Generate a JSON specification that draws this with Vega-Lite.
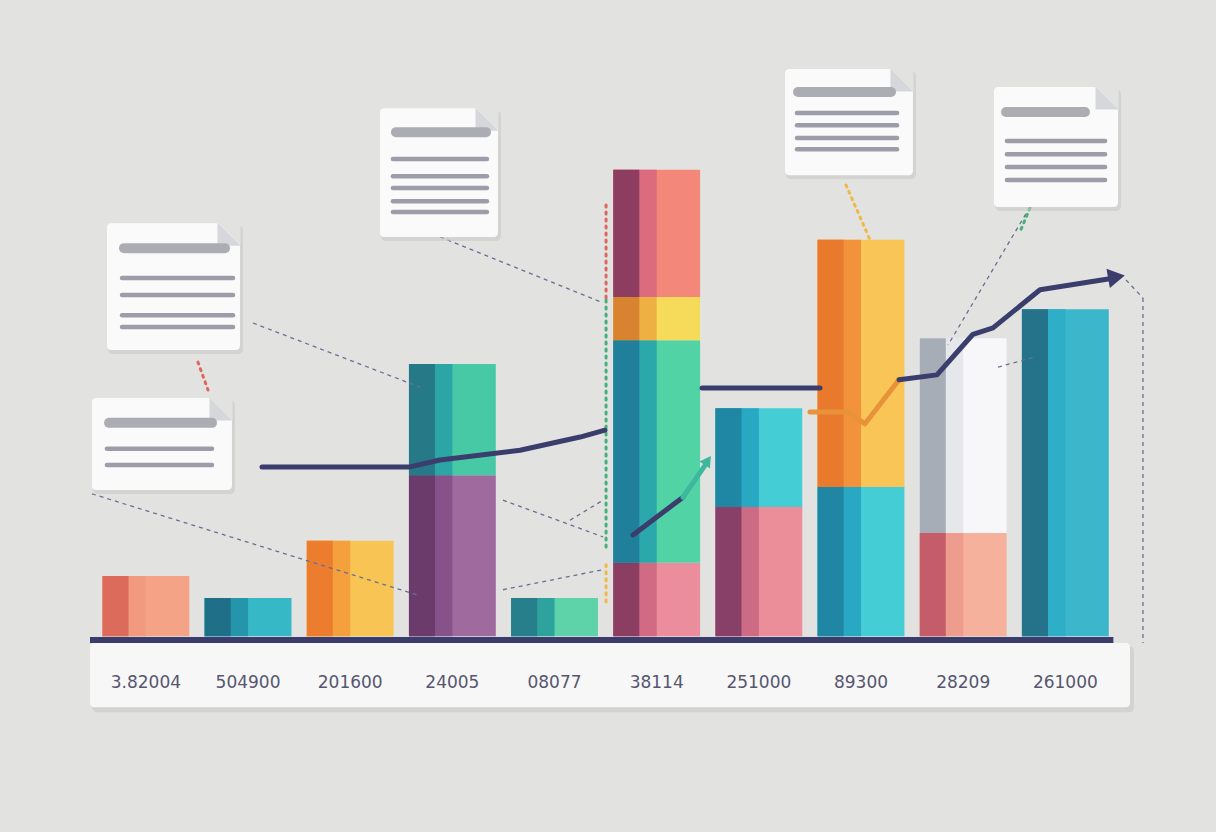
{
  "$schema": "https://vega.github.io/schema/vega-lite/v6.json",
  "width": 1040,
  "height": 832,
  "autosize": "none",
  "padding": {"left": 90, "right": 86, "top": 0, "bottom": 0},
  "background": "#e2e3e1",
  "config": {"view": {"stroke": null}},
  "datasets": {
    "bars": [
      {"label": "3.82004", "segment": "coral", "layer": 1, "value": 12.3},
      {"label": "504900", "segment": "teal", "layer": 1, "value": 7.8},
      {"label": "201600", "segment": "orange", "layer": 1, "value": 19.5},
      {"label": "24005", "segment": "plum", "layer": 1, "value": 32.9},
      {"label": "24005", "segment": "jade", "layer": 2, "value": 22.7},
      {"label": "08077", "segment": "mint", "layer": 1, "value": 7.8},
      {"label": "38114", "segment": "rose", "layer": 1, "value": 15.0},
      {"label": "38114", "segment": "green", "layer": 2, "value": 45.5},
      {"label": "38114", "segment": "gold", "layer": 3, "value": 8.8},
      {"label": "38114", "segment": "red", "layer": 4, "value": 26.0},
      {"label": "251000", "segment": "pink", "layer": 1, "value": 26.4},
      {"label": "251000", "segment": "cyan", "layer": 2, "value": 20.2},
      {"label": "89300", "segment": "cyan", "layer": 1, "value": 30.5},
      {"label": "89300", "segment": "amber", "layer": 2, "value": 50.5},
      {"label": "28209", "segment": "salmon", "layer": 1, "value": 21.1},
      {"label": "28209", "segment": "silver", "layer": 2, "value": 39.8},
      {"label": "261000", "segment": "ocean", "layer": 1, "value": 66.8}
    ],
    "notes": [
      {"n": 1, "u1": 0.163, "u2": 1.442, "v1": 84.4, "v2": 58.5},
      {"n": 2, "u1": 0.019, "u2": 1.365, "v1": 48.7, "v2": 29.9},
      {"n": 3, "u1": 2.788, "u2": 3.923, "v1": 107.9, "v2": 81.6},
      {"n": 4, "u1": 6.683, "u2": 7.913, "v1": 115.9, "v2": 94.2},
      {"n": 5, "u1": 8.692, "u2": 9.885, "v1": 112.2, "v2": 87.7}
    ],
    "noteLines": [
      {"kind": "title", "u1": 0.327, "u2": 1.298, "v": 79.3},
      {"kind": "text", "u1": 0.308, "u2": 1.375, "v": 73.2},
      {"kind": "text", "u1": 0.308, "u2": 1.375, "v": 69.7},
      {"kind": "text", "u1": 0.308, "u2": 1.375, "v": 65.6},
      {"kind": "text", "u1": 0.308, "u2": 1.375, "v": 63.2},
      {"kind": "title", "u1": 0.183, "u2": 1.173, "v": 43.6},
      {"kind": "text", "u1": 0.163, "u2": 1.173, "v": 38.3},
      {"kind": "text", "u1": 0.163, "u2": 1.173, "v": 35.0},
      {"kind": "title", "u1": 2.942, "u2": 3.808, "v": 103.0},
      {"kind": "text", "u1": 2.913, "u2": 3.817, "v": 97.5},
      {"kind": "text", "u1": 2.913, "u2": 3.817, "v": 94.0},
      {"kind": "text", "u1": 2.913, "u2": 3.817, "v": 91.6},
      {"kind": "text", "u1": 2.913, "u2": 3.817, "v": 88.9},
      {"kind": "text", "u1": 2.913, "u2": 3.817, "v": 86.7},
      {"kind": "title", "u1": 6.808, "u2": 7.702, "v": 111.2},
      {"kind": "text", "u1": 6.798, "u2": 7.76, "v": 106.9},
      {"kind": "text", "u1": 6.798, "u2": 7.76, "v": 104.4},
      {"kind": "text", "u1": 6.798, "u2": 7.76, "v": 101.8},
      {"kind": "text", "u1": 6.798, "u2": 7.76, "v": 99.5},
      {"kind": "title", "u1": 8.808, "u2": 9.567, "v": 107.1},
      {"kind": "text", "u1": 8.817, "u2": 9.76, "v": 101.2},
      {"kind": "text", "u1": 8.817, "u2": 9.76, "v": 98.5},
      {"kind": "text", "u1": 8.817, "u2": 9.76, "v": 95.9},
      {"kind": "text", "u1": 8.817, "u2": 9.76, "v": 93.2}
    ],
    "connectors": [
      {"u1": 1.567, "v1": 64.0, "u2": 3.173, "v2": 50.9},
      {"u1": 0.019, "v1": 29.1, "u2": 3.154, "v2": 8.4},
      {"u1": 3.365, "v1": 81.6, "u2": 4.933, "v2": 68.1},
      {"u1": 3.971, "v1": 27.8, "u2": 4.933, "v2": 20.3},
      {"u1": 3.971, "v1": 9.5, "u2": 4.933, "v2": 13.6},
      {"u1": 4.615, "v1": 23.7, "u2": 4.933, "v2": 27.8},
      {"u1": 9.038, "v1": 87.7, "u2": 8.25, "v2": 59.5},
      {"u1": 8.731, "v1": 55.0, "u2": 9.096, "v2": 57.1},
      {"u1": 9.962, "v1": 72.8, "u2": 10.125, "v2": 69.1},
      {"u1": 10.125, "v1": 69.1, "u2": 10.125, "v2": -1.4}
    ],
    "dots": [
      {"c": "red", "u1": 4.962, "v1": 88.1, "u2": 4.962, "v2": 68.7},
      {"c": "green", "u1": 4.962, "v1": 68.7, "u2": 4.962, "v2": 17.6},
      {"c": "yellow", "u1": 4.962, "v1": 14.6, "u2": 4.962, "v2": 6.8},
      {"c": "yellow", "u1": 7.269, "v1": 92.2, "u2": 7.5, "v2": 81.0},
      {"c": "green", "u1": 9.038, "v1": 87.5, "u2": 8.942, "v2": 82.6},
      {"c": "red", "u1": 1.038, "v1": 56.0, "u2": 1.135, "v2": 50.3}
    ],
    "trend": [
      {"seg": "A", "i": 0, "u": 1.654, "v": 34.6},
      {"seg": "A", "i": 1, "u": 3.077, "v": 34.6},
      {"seg": "A", "i": 2, "u": 3.365, "v": 36.0},
      {"seg": "A", "i": 3, "u": 4.135, "v": 38.0},
      {"seg": "A", "i": 4, "u": 4.712, "v": 40.7},
      {"seg": "A", "i": 5, "u": 4.952, "v": 42.1},
      {"seg": "B", "i": 0, "u": 5.885, "v": 50.7},
      {"seg": "B", "i": 1, "u": 7.019, "v": 50.7},
      {"seg": "C0", "i": 0, "u": 6.923, "v": 45.8},
      {"seg": "C0", "i": 1, "u": 7.288, "v": 45.8},
      {"seg": "C0", "i": 2, "u": 7.452, "v": 43.4},
      {"seg": "C0", "i": 3, "u": 7.779, "v": 52.4},
      {"seg": "C", "i": 0, "u": 7.779, "v": 52.4},
      {"seg": "C", "i": 1, "u": 8.144, "v": 53.4},
      {"seg": "C", "i": 2, "u": 8.49, "v": 61.7},
      {"seg": "C", "i": 3, "u": 8.683, "v": 63.0},
      {"seg": "C", "i": 4, "u": 9.135, "v": 70.8},
      {"seg": "C", "i": 5, "u": 9.82, "v": 73.1},
      {"seg": "D", "i": 0, "u": 5.221, "v": 20.7},
      {"seg": "D", "i": 1, "u": 5.702, "v": 28.4},
      {"seg": "D2", "i": 0, "u": 5.702, "v": 28.4},
      {"seg": "D2", "i": 1, "u": 5.91, "v": 34.8}
    ],
    "heads": [
      {"c": "navy", "u": 9.87, "v": 73.4, "angle": 350, "shape": "triangle-right"},
      {"c": "teal", "u": 5.94, "v": 35.9, "angle": 34, "shape": "triangle-up"}
    ]
  },
  "layer": [
    {
      "layer": [
        {
          "data": {"values": [{}]},
          "mark": {"type": "rect", "color": "#cbcdcb", "opacity": 0.7, "cornerRadius": 5, "xOffset": 2, "x2Offset": 4, "yOffset": 3, "y2Offset": 5},
          "encoding": {
            "x": {"datum": 0, "type": "quantitative", "scale": {"domain": [0, 10], "nice": false, "zero": false}, "axis": null},
            "x2": {"datum": 10},
            "y": {"datum": -1.37, "type": "quantitative", "scale": {"domain": [-40, 130], "nice": false, "zero": false}, "axis": null},
            "y2": {"datum": -14.5}
          }
        },
        {
          "data": {"values": [{}]},
          "mark": {"type": "rect", "color": "#f7f7f8", "cornerRadius": 4},
          "encoding": {
            "x": {"datum": 0, "type": "quantitative", "scale": {"domain": [0, 10], "nice": false, "zero": false}, "axis": null},
            "x2": {"datum": 10},
            "y": {"datum": -1.37, "type": "quantitative", "scale": {"domain": [-40, 130], "nice": false, "zero": false}, "axis": null},
            "y2": {"datum": -14.5}
          }
        }
      ]
    },
    {
      "data": {"name": "bars"},
      "encoding": {
        "x": {"field": "label", "type": "nominal", "sort": null, "scale": {"paddingInner": 0.15, "paddingOuter": 0.165, "align": 0.37}, "axis": null}
      },
      "layer": [
        {
          "mark": {"type": "bar", "strokeWidth": 0},
          "encoding": {
            "y": {"field": "value", "type": "quantitative", "stack": "zero", "scale": {"domain": [-40, 130], "nice": false, "zero": false}, "axis": null},
            "order": {"field": "layer", "type": "quantitative"},
            "color": {
              "field": "segment", "type": "nominal", "legend": null,
              "scale": {
                "domain": ["coral", "teal", "orange", "plum", "jade", "mint", "rose", "green", "gold", "red", "pink", "cyan", "amber", "salmon", "silver", "ocean"],
                "range": ["#f4a386", "#36b8c6", "#f8c454", "#9f6b9f", "#47c9a6", "#5ed3a9", "#eb8d9d", "#52d3a6", "#f6da59", "#f2877a", "#ec8e99", "#44cdd5", "#f9c556", "#f5b19c", "#f7f7f9", "#3cb6cb"]
              }
            }
          }
        },
        {
          "mark": {"type": "bar", "strokeWidth": 0, "width": {"band": 0.5}, "xOffset": -21.7},
          "encoding": {
            "y": {"field": "value", "type": "quantitative", "stack": "zero", "scale": {"domain": [-40, 130], "nice": false, "zero": false}, "axis": null},
            "order": {"field": "layer", "type": "quantitative"},
            "color": {
              "field": "segment", "type": "nominal", "legend": null,
              "scale": {
                "domain": ["coral", "teal", "orange", "plum", "jade", "mint", "rose", "green", "gold", "red", "pink", "cyan", "amber", "salmon", "silver", "ocean"],
                "range": ["#f19a80", "#2595ab", "#f4a03c", "#87528a", "#2ba5a5", "#2ea39d", "#d06b83", "#2aa8aa", "#eeb043", "#dc6b7d", "#cd6b85", "#28a8c3", "#f2923b", "#ee9c8e", "#e5e7eb", "#2eaec7"]
              }
            }
          }
        },
        {
          "mark": {"type": "bar", "strokeWidth": 0, "width": {"band": 0.3}, "xOffset": -30.4},
          "encoding": {
            "y": {"field": "value", "type": "quantitative", "stack": "zero", "scale": {"domain": [-40, 130], "nice": false, "zero": false}, "axis": null},
            "order": {"field": "layer", "type": "quantitative"},
            "color": {
              "field": "segment", "type": "nominal", "legend": null,
              "scale": {
                "domain": ["coral", "teal", "orange", "plum", "jade", "mint", "rose", "green", "gold", "red", "pink", "cyan", "amber", "salmon", "silver", "ocean"],
                "range": ["#dc6b5c", "#1e6f87", "#ec7c2e", "#6a3b6b", "#267a88", "#267f8b", "#8b3e62", "#20809b", "#d8832f", "#8d3d60", "#884069", "#1f86a3", "#e8792d", "#c55c6a", "#a7adb7", "#24738b"]
              }
            }
          }
        },
        {
          "transform": [{"filter": "datum.layer == 1"}],
          "mark": {"type": "text", "font": "DejaVu Sans", "fontSize": 17, "color": "#56566e", "baseline": "middle", "align": "center"},
          "encoding": {
            "y": {"datum": -9.6, "type": "quantitative", "scale": {"domain": [-40, 130], "nice": false, "zero": false}, "axis": null},
            "text": {"field": "label"}
          }
        }
      ],
      "resolve": {"scale": {"color": "independent"}}
    },
    {
      "layer": [
        {
          "data": {"values": [{}]},
          "mark": {"type": "rule", "color": "#3a3d6b", "strokeWidth": 6},
          "encoding": {
            "x": {"datum": 0, "type": "quantitative", "scale": {"domain": [0, 10], "nice": false, "zero": false}, "axis": null},
            "x2": {"datum": 9.84},
            "y": {"datum": -0.78, "type": "quantitative", "scale": {"domain": [-40, 130], "nice": false, "zero": false}, "axis": null}
          }
        },
        {
          "data": {"name": "connectors"},
          "mark": {"type": "rule", "color": "#6a6f92", "strokeWidth": 1.3, "strokeDash": [4, 4]},
          "encoding": {
            "x": {"field": "u1", "type": "quantitative", "scale": {"domain": [0, 10], "nice": false, "zero": false}, "axis": null},
            "x2": {"field": "u2"},
            "y": {"field": "v1", "type": "quantitative", "scale": {"domain": [-40, 130], "nice": false, "zero": false}, "axis": null},
            "y2": {"field": "v2"}
          }
        },
        {
          "data": {"name": "dots"},
          "mark": {"type": "rule", "strokeWidth": 3, "strokeDash": [2, 5], "strokeCap": "round"},
          "encoding": {
            "x": {"field": "u1", "type": "quantitative", "scale": {"domain": [0, 10], "nice": false, "zero": false}, "axis": null},
            "x2": {"field": "u2"},
            "y": {"field": "v1", "type": "quantitative", "scale": {"domain": [-40, 130], "nice": false, "zero": false}, "axis": null},
            "y2": {"field": "v2"},
            "color": {"field": "c", "type": "nominal", "legend": null, "scale": {"domain": ["red", "green", "yellow"], "range": ["#e0655a", "#45b07a", "#f0b845"]}}
          }
        },
        {
          "data": {"name": "notes"},
          "mark": {"type": "rect", "color": "#c6c8c6", "opacity": 0.55, "cornerRadius": 5, "xOffset": 1, "x2Offset": 3, "yOffset": 2, "y2Offset": 4},
          "encoding": {
            "x": {"field": "u1", "type": "quantitative", "scale": {"domain": [0, 10], "nice": false, "zero": false}, "axis": null},
            "x2": {"field": "u2"},
            "y": {"field": "v1", "type": "quantitative", "scale": {"domain": [-40, 130], "nice": false, "zero": false}, "axis": null},
            "y2": {"field": "v2"}
          }
        },
        {
          "data": {"name": "notes"},
          "mark": {"type": "rect", "color": "#fafafa", "cornerRadius": 4},
          "encoding": {
            "x": {"field": "u1", "type": "quantitative", "scale": {"domain": [0, 10], "nice": false, "zero": false}, "axis": null},
            "x2": {"field": "u2"},
            "y": {"field": "v1", "type": "quantitative", "scale": {"domain": [-40, 130], "nice": false, "zero": false}, "axis": null},
            "y2": {"field": "v2"}
          }
        },
        {
          "data": {"name": "notes"},
          "mark": {"type": "point", "shape": "M -1 -1 L 1 -1 L 1 1 Z", "filled": true, "size": 529, "color": "#e2e3e1", "opacity": 1, "strokeWidth": 0, "xOffset": -11, "yOffset": 11},
          "encoding": {
            "x": {"field": "u2", "type": "quantitative", "scale": {"domain": [0, 10], "nice": false, "zero": false}, "axis": null},
            "y": {"field": "v1", "type": "quantitative", "scale": {"domain": [-40, 130], "nice": false, "zero": false}, "axis": null}
          }
        },
        {
          "data": {"name": "notes"},
          "mark": {"type": "point", "shape": "M -1 -1 L 1 1 L -1 1 Z", "filled": true, "size": 529, "color": "#d6d7da", "opacity": 1, "strokeWidth": 0, "xOffset": -11, "yOffset": 11},
          "encoding": {
            "x": {"field": "u2", "type": "quantitative", "scale": {"domain": [0, 10], "nice": false, "zero": false}, "axis": null},
            "y": {"field": "v1", "type": "quantitative", "scale": {"domain": [-40, 130], "nice": false, "zero": false}, "axis": null}
          }
        },
        {
          "data": {"name": "noteLines"},
          "mark": {"type": "rule", "strokeCap": "round"},
          "encoding": {
            "x": {"field": "u1", "type": "quantitative", "scale": {"domain": [0, 10], "nice": false, "zero": false}, "axis": null},
            "x2": {"field": "u2"},
            "y": {"field": "v", "type": "quantitative", "scale": {"domain": [-40, 130], "nice": false, "zero": false}, "axis": null},
            "strokeWidth": {"field": "kind", "type": "nominal", "legend": null, "scale": {"domain": ["title", "text"], "range": [10, 4.5]}},
            "color": {"field": "kind", "type": "nominal", "legend": null, "scale": {"domain": ["title", "text"], "range": ["#acadb3", "#9c9da8"]}}
          }
        },
        {
          "data": {"name": "trend"},
          "mark": {"type": "line", "strokeWidth": 5, "strokeCap": "round", "strokeJoin": "round"},
          "encoding": {
            "x": {"field": "u", "type": "quantitative", "scale": {"domain": [0, 10], "nice": false, "zero": false}, "axis": null},
            "y": {"field": "v", "type": "quantitative", "scale": {"domain": [-40, 130], "nice": false, "zero": false}, "axis": null},
            "detail": {"field": "seg", "type": "nominal"},
            "order": {"field": "i", "type": "quantitative"},
            "color": {"field": "seg", "type": "nominal", "legend": null, "scale": {"domain": ["A", "B", "C0", "C", "D", "D2"], "range": ["#3b3d6d", "#3b3d6d", "#e8923a", "#3b3d6d", "#3b3d6d", "#3cb89c"]}}
          }
        },
        {
          "data": {"name": "heads"},
          "mark": {"type": "point", "filled": true, "opacity": 1, "strokeWidth": 0},
          "encoding": {
            "x": {"field": "u", "type": "quantitative", "scale": {"domain": [0, 10], "nice": false, "zero": false}, "axis": null},
            "y": {"field": "v", "type": "quantitative", "scale": {"domain": [-40, 130], "nice": false, "zero": false}, "axis": null},
            "angle": {"field": "angle", "type": "quantitative", "scale": null},
            "shape": {"field": "shape", "type": "nominal", "scale": null},
            "size": {"field": "c", "type": "nominal", "legend": null, "scale": {"domain": ["navy", "teal"], "range": [380, 160]}},
            "color": {"field": "c", "type": "nominal", "legend": null, "scale": {"domain": ["navy", "teal"], "range": ["#3b3d6d", "#3cb89c"]}}
          }
        }
      ],
      "resolve": {"scale": {"color": "independent", "strokeWidth": "independent"}}
    }
  ],
  "resolve": {"scale": {"x": "independent", "color": "independent", "strokeWidth": "independent"}}
}
